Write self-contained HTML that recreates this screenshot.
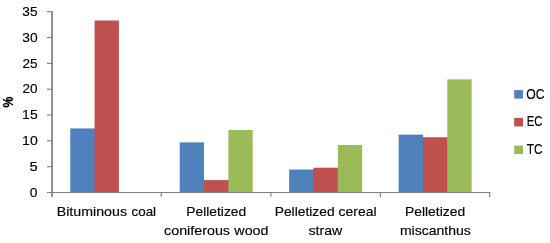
<!DOCTYPE html>
<html lang="en"><head><meta charset="utf-8"><title>Carbon content chart</title>
<style>html,body{margin:0;padding:0;background:#fff}body{width:550px;height:243px;overflow:hidden}svg{display:block}text{font-family:"Liberation Sans",sans-serif;font-size:13.4px;fill:#000;stroke:#000;stroke-width:0.15px}.n{font-size:13.4px}.g{font-size:13.8px}.p{font-size:15.2px;font-weight:bold;stroke-width:0.25px}</style></head><body>
<svg width="550" height="243" viewBox="0 0 550 243">
<rect width="550" height="243" fill="#fff"/>
<rect x="70.24" y="128.45" width="24.33" height="64.05" fill="#4F81BD"/>
<rect x="93.97" y="128.45" width="1.2" height="64.05" fill="#4F81BD"/>
<rect x="94.57" y="20.48" width="24.33" height="172.02" fill="#C0504D"/>
<rect x="179.71" y="142.39" width="24.33" height="50.11" fill="#4F81BD"/>
<rect x="203.43" y="180.10" width="1.2" height="12.40" fill="#4F81BD"/>
<rect x="204.03" y="180.10" width="24.33" height="12.40" fill="#C0504D"/>
<rect x="227.76" y="180.10" width="1.2" height="12.40" fill="#C0504D"/>
<rect x="228.36" y="129.99" width="24.33" height="62.51" fill="#9BBB59"/>
<rect x="289.17" y="169.51" width="24.33" height="22.99" fill="#4F81BD"/>
<rect x="312.89" y="169.51" width="1.2" height="22.99" fill="#4F81BD"/>
<rect x="313.49" y="167.70" width="24.33" height="24.80" fill="#C0504D"/>
<rect x="337.22" y="167.70" width="1.2" height="24.80" fill="#C0504D"/>
<rect x="337.82" y="144.98" width="24.33" height="47.52" fill="#9BBB59"/>
<rect x="398.63" y="134.64" width="24.33" height="57.86" fill="#4F81BD"/>
<rect x="422.36" y="137.23" width="1.2" height="55.27" fill="#4F81BD"/>
<rect x="422.96" y="137.23" width="24.33" height="55.27" fill="#C0504D"/>
<rect x="446.68" y="137.23" width="1.2" height="55.27" fill="#C0504D"/>
<rect x="447.28" y="79.37" width="24.33" height="113.13" fill="#9BBB59"/>
<g stroke="#808080" stroke-width="1.15" fill="none">
<path d="M52.05 11.20V197.00" stroke-width="1.7"/>
<path d="M47.00 192.50H490.40"/>
<path d="M47.00 166.67H52.00"/>
<path d="M47.00 140.84H52.00"/>
<path d="M47.00 115.01H52.00"/>
<path d="M47.00 89.19H52.00"/>
<path d="M47.00 63.36H52.00"/>
<path d="M47.00 37.53H52.00"/>
<path d="M47.00 11.70H52.00"/>
<path d="M161.26 192.50V197.00"/>
<path d="M270.93 192.50V197.00"/>
<path d="M380.39 192.50V197.00"/>
<path d="M489.65 192.50V197.00"/>
</g>
<text class="n"><tspan x="29.86" y="197.00" textLength="7.70" lengthAdjust="spacingAndGlyphs">0</tspan></text>
<text class="n"><tspan x="29.52" y="171.00" textLength="8.16" lengthAdjust="spacingAndGlyphs">5</tspan></text>
<text class="n"><tspan x="22.12" y="145.00" textLength="15.62" lengthAdjust="spacingAndGlyphs">10</tspan></text>
<text class="n"><tspan x="22.11" y="119.00" textLength="15.56" lengthAdjust="spacingAndGlyphs">15</tspan></text>
<text class="n"><tspan x="22.50" y="93.00" textLength="15.06" lengthAdjust="spacingAndGlyphs">20</tspan></text>
<text class="n"><tspan x="22.50" y="68.00" textLength="15.12" lengthAdjust="spacingAndGlyphs">25</tspan></text>
<text class="n"><tspan x="22.37" y="42.00" textLength="15.34" lengthAdjust="spacingAndGlyphs">30</tspan></text>
<text class="n"><tspan x="22.37" y="16.00" textLength="15.18" lengthAdjust="spacingAndGlyphs">35</tspan></text>
<text transform="translate(13.2,102.0) rotate(-90)" text-anchor="middle" class="p" textLength="10.9" lengthAdjust="spacingAndGlyphs">%</text>
<text><tspan x="56.73" y="216.00" textLength="70.31" lengthAdjust="spacingAndGlyphs">Bituminous</tspan> <tspan x="131.56" y="216.00" textLength="24.55" lengthAdjust="spacingAndGlyphs">coal</tspan></text>
<text><tspan x="186.26" y="216.00" textLength="59.98" lengthAdjust="spacingAndGlyphs">Pelletized</tspan> <tspan x="164.05" y="235.00" textLength="65.99" lengthAdjust="spacingAndGlyphs">coniferous</tspan> <tspan x="234.36" y="235.00" textLength="34.07" lengthAdjust="spacingAndGlyphs">wood</tspan></text>
<text><tspan x="274.68" y="216.00" textLength="59.89" lengthAdjust="spacingAndGlyphs">Pelletized</tspan> <tspan x="338.50" y="216.00" textLength="38.10" lengthAdjust="spacingAndGlyphs">cereal</tspan> <tspan x="308.50" y="235.00" textLength="33.71" lengthAdjust="spacingAndGlyphs">straw</tspan></text>
<text><tspan x="404.90" y="216.00" textLength="60.24" lengthAdjust="spacingAndGlyphs">Pelletized</tspan> <tspan x="399.91" y="235.00" textLength="70.84" lengthAdjust="spacingAndGlyphs">miscanthus</tspan></text>
<rect x="514.2" y="90.1" width="8.8" height="8.5" fill="#4F81BD"/>
<text class="g"><tspan x="526.25" y="99.00" textLength="18.32" lengthAdjust="spacingAndGlyphs">OC</tspan></text>
<rect x="514.2" y="117.9" width="8.8" height="8.5" fill="#C0504D"/>
<text class="g"><tspan x="526.75" y="126.00" textLength="15.75" lengthAdjust="spacingAndGlyphs">EC</tspan></text>
<rect x="514.2" y="145.6" width="8.8" height="8.5" fill="#9BBB59"/>
<text class="g"><tspan x="526.72" y="154.00" textLength="15.85" lengthAdjust="spacingAndGlyphs">TC</tspan></text>
</svg></body></html>
